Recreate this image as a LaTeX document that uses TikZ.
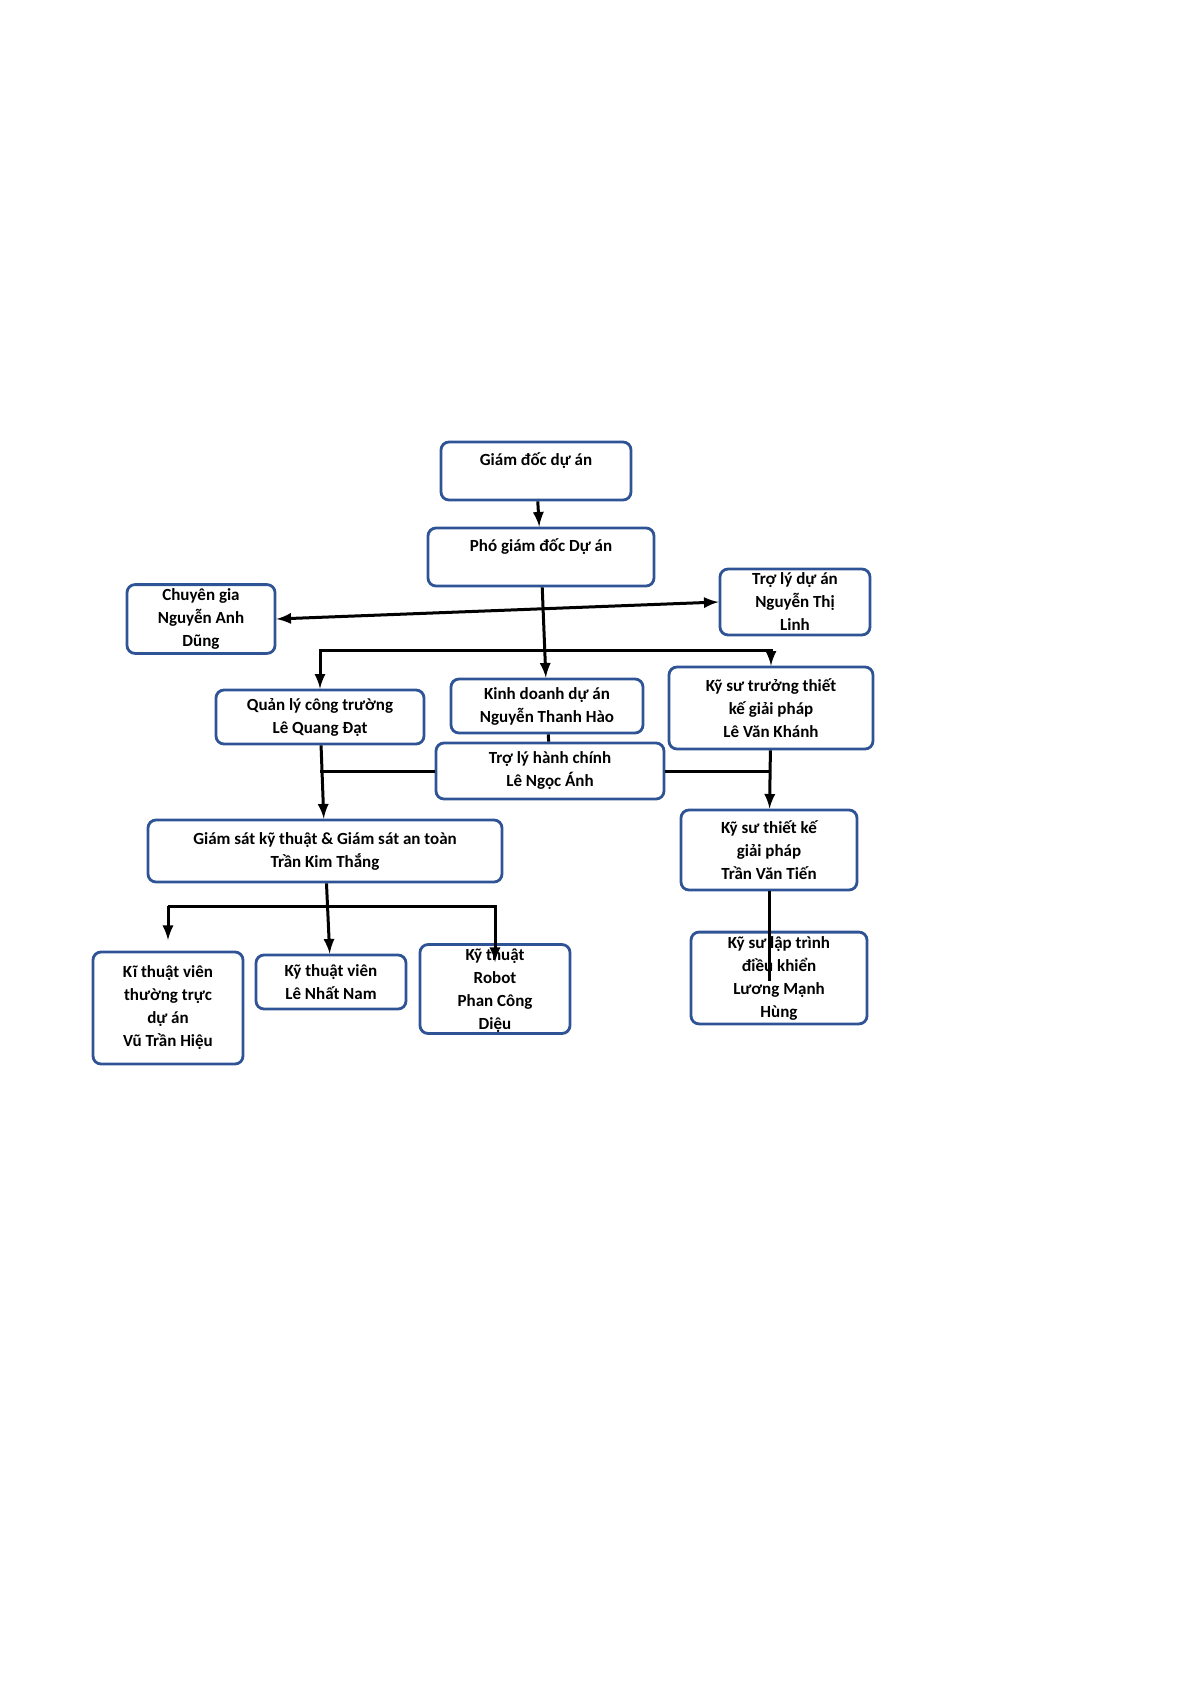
\documentclass[tikz,border=0pt]{standalone}
\usepackage{fontspec}
\setmainfont{Carlito}
\usetikzlibrary{positioning}
\definecolor{boxblue}{RGB}{47,84,150}
\begin{document}
\begin{tikzpicture}[x=0.5pt,y=-0.5pt,>=latex,font=\fontsize{8.5}{11.5}\selectfont\bfseries]

\tikzstyle{box}=[draw=boxblue,line width=1.4pt,rounded corners=4pt,align=center,inner sep=2pt]
\tikzstyle{link}=[line width=1.5pt]

    \useasboundingbox (0,0) rectangle (1200,1698);

    \node[box,minimum width=95pt,minimum height=29pt] (GD) at (536,471) {Giám đốc dự án\\ ~};
    \node[box,minimum width=113pt,minimum height=29pt] (PGD) at (541,557) {Phó giám đốc Dự án\\ ~};
    \node[box,minimum width=74pt,minimum height=27pt] (CG) at (201,619) {Chuyên gia\\ Nguyễn Anh\\ Dũng};
    \node[box,minimum width=75pt,minimum height=27pt] (TLDA) at (795,602) {Trợ lý dự án\\ Nguyễn Thị\\ Linh};
    \node[box,minimum width=104pt,minimum height=27pt] (QLCT) at (320,717) {Quản lý công trường\\ Lê Quang Đạt};
    \node[box,minimum width=96pt,minimum height=27pt] (KD) at (547,706) {Kinh doanh dự án\\ Nguyễn Thanh Hào};
    \node[box,minimum width=102pt,minimum height=41pt] (KSTK) at (771,708) {Kỹ sư trưởng thiết\\ kế giải pháp\\ Lê Văn Khánh};
    \node[box,minimum width=114pt,minimum height=28pt] (TLHC) at (550,771) {Trợ lý hành chính\\ Lê Ngọc Ánh};
    \node[box,minimum width=177pt,minimum height=31pt] (GSKT) at (325,851) {Giám sát kỹ thuật \& Giám sát an toàn\\ Trần Kim Thắng};
    \node[box,minimum width=88pt,minimum height=40pt] (KSGP) at (769,850) {Kỹ sư thiết kế\\ giải pháp\\ Trần Văn Tiến};
    \node[box,minimum width=75pt,minimum height=56pt] (KTV) at (168,1008) {Kĩ thuật viên\\ thường trực\\ dự án\\ Vũ Trần Hiệu};
    \node[box,minimum width=75pt,minimum height=27pt] (KTVN) at (331,982) {Kỹ thuật viên\\ Lê Nhất Nam};
    \node[box,minimum width=75pt,minimum height=40pt,text depth=0pt] (RB) at (495,989) {Kỹ thuật\\ Robot\\ Phan Công\\ Diệu};
    \node[box,minimum width=88pt,minimum height=42pt] (KSLT) at (779,978) {Kỹ sư lập trình\\ điều khiển\\ Lương Mạnh\\ Hùng};

    \coordinate (row1) at (0,650);
    \coordinate (row2) at (0,906);

\draw[link,->] (GD) -- (PGD);
\draw[link,->] (PGD) -- (KD);
\draw[link,<->] (CG.east) -- (TLDA.west);
\draw[link,<->] (QLCT.north) -- (QLCT.north |- row1) -- (KSTK.north |- row1) -- (KSTK.north);
\draw[link] (KD) -- (TLHC);
\draw[link,->] (QLCT) -- (GSKT);
\draw[link] (TLHC.west) -- (QLCT.south |- TLHC.west);
\draw[link] (TLHC.east) -- (KSTK.south |- TLHC.east);
\draw[link,->] (KSTK) -- (KSGP);
\draw[link] (KSGP.south) -- ++(0,90);
\draw[link,->] (GSKT) -- (KTVN);
\draw[link,->] (KTV.north |- row2) ++(0,34) coordinate (ktvtop) (KTV.north |- row2) -- (ktvtop);
\draw[link,->] (KTV.north |- row2) -- (RB.north |- row2) -- ++(0,56);
\end{tikzpicture}
\end{document}
